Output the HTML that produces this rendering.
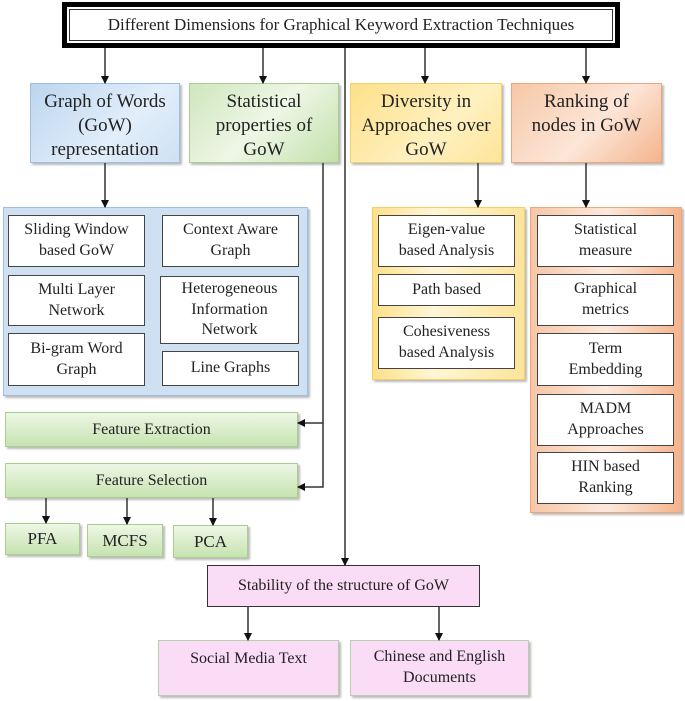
<!DOCTYPE html>
<html><head><meta charset="utf-8"><style>
body{margin:0;width:685px;height:701px;background:#fff;position:relative;overflow:hidden;font-family:"Liberation Serif",serif;color:#222}
.b{position:absolute;box-sizing:border-box;display:flex;align-items:center;justify-content:center;text-align:center;line-height:1.25}
.top{font-size:19px;align-items:flex-start;padding-top:6px;box-shadow:2px 2px 2px #bbb}
.in{background:#fff;border:1.5px solid #444;font-size:16px;line-height:1.3}
.g{background:linear-gradient(180deg,#eef7e6,#c6e3b0);border:1px solid #a9cf8f;box-shadow:2px 2px 2px #bbb;font-size:16px}
.p{background:#fadcf6;font-size:16px;line-height:1.3}
svg{position:absolute;left:0;top:0}
</style></head><body>
<div class="b" style="left:62px;top:2px;width:558px;height:46px;border:5px solid #000;font-size:17px;background:#fff">
<div style="position:absolute;left:2px;top:2px;right:2px;bottom:2px;border:1.5px solid #333"></div>Different Dimensions for Graphical Keyword Extraction Techniques</div>

<div class="b top" style="left:30px;top:83px;width:150px;height:80px;background:linear-gradient(135deg,#bcd6ef,#e2eefa 60%,#cfe1f4);border:1px solid #9dbfe2">Graph of Words<br>(GoW)<br>representation</div>
<div class="b top" style="left:189px;top:83px;width:150px;height:80px;background:linear-gradient(135deg,#cfe6bd,#eef7e6 50%,#c3e0aa);border:1px solid #a9cf8f">Statistical<br>properties of<br>GoW</div>
<div class="b top" style="left:350px;top:83px;width:152px;height:80px;background:linear-gradient(135deg,#fde08a,#fff1c0 60%,#fde49a);border:1px solid #f3cf6a">Diversity in<br>Approaches over<br>GoW</div>
<div class="b top" style="left:511px;top:83px;width:151px;height:80px;background:linear-gradient(135deg,#f6c7a6,#fde6d8 55%,#f4b48c);border:1px solid #eda57d">Ranking of<br>nodes in GoW</div>

<div class="b" style="left:3px;top:207px;width:305px;height:189px;background:#cfe0f3;border:1px solid #9dbfe2;box-shadow:2px 2px 2px #bbb"></div>
<div class="b in" style="left:8px;top:215px;width:137px;height:52px">Sliding Window<br>based GoW</div>
<div class="b in" style="left:162px;top:215px;width:137px;height:52px">Context Aware<br>Graph</div>
<div class="b in" style="left:8px;top:275px;width:137px;height:51px">Multi Layer<br>Network</div>
<div class="b in" style="left:160px;top:276px;width:139px;height:68px">Heterogeneous<br>Information<br>Network</div>
<div class="b in" style="left:8px;top:333px;width:137px;height:53px">Bi-gram Word<br>Graph</div>
<div class="b in" style="left:162px;top:351px;width:137px;height:35px">Line Graphs</div>

<div class="b" style="left:372px;top:207px;width:153px;height:173px;background:linear-gradient(90deg,#fde08a,#fff6d6 40%,#fde49a);border:1px solid #f3cf6a;box-shadow:2px 2px 2px #bbb"></div>
<div class="b in" style="left:378px;top:215px;width:137px;height:52px">Eigen-value<br>based Analysis</div>
<div class="b in" style="left:378px;top:274px;width:137px;height:32px">Path based</div>
<div class="b in" style="left:378px;top:317px;width:137px;height:52px">Cohesiveness<br>based Analysis</div>

<div class="b" style="left:530px;top:207px;width:152px;height:306px;background:linear-gradient(90deg,#f6c7a6,#fde9dc 50%,#f4b48c);border:1px solid #eda57d;box-shadow:2px 2px 2px #bbb"></div>
<div class="b in" style="left:537px;top:215px;width:137px;height:52px">Statistical<br>measure</div>
<div class="b in" style="left:537px;top:274px;width:137px;height:52px">Graphical<br>metrics</div>
<div class="b in" style="left:537px;top:333px;width:137px;height:53px">Term<br>Embedding</div>
<div class="b in" style="left:537px;top:394px;width:137px;height:52px">MADM<br>Approaches</div>
<div class="b in" style="left:537px;top:452px;width:137px;height:52px">HIN based<br>Ranking</div>

<div class="b g" style="left:5px;top:412px;width:293px;height:35px">Feature Extraction</div>
<div class="b g" style="left:5px;top:463px;width:293px;height:35px">Feature Selection</div>
<div class="b g" style="left:5px;top:523px;width:75px;height:32px;font-size:17px">PFA</div>
<div class="b g" style="left:87px;top:524px;width:76px;height:33px;font-size:17px">MCFS</div>
<div class="b g" style="left:173px;top:525px;width:75px;height:33px;font-size:17px">PCA</div>

<div class="b p" style="left:207px;top:565px;width:273px;height:42px;border:1.5px solid #333">Stability of the structure of GoW</div>
<div class="b p" style="left:158px;top:640px;width:181px;height:56px;border:1px solid #b9cfa9;align-items:flex-start;padding-top:8px;box-shadow:2px 2px 2px #bbb">Social Media Text</div>
<div class="b p" style="left:350px;top:640px;width:179px;height:56px;border:1px solid #b9cfa9;box-shadow:2px 2px 2px #bbb">Chinese and English<br>Documents</div>

<svg width="685" height="701">
<defs><marker id="a" markerWidth="8" markerHeight="8" refX="7" refY="4" orient="auto" markerUnits="userSpaceOnUse"><path d="M0,0L8,4L0,8z" fill="#111"/></marker></defs>
<g stroke="#333" stroke-width="1.5" fill="none" marker-end="url(#a)">
<line x1="105" y1="48" x2="105" y2="83"/>
<line x1="263" y1="48" x2="263" y2="83"/>
<line x1="425" y1="48" x2="425" y2="83"/>
<line x1="586" y1="48" x2="586" y2="83"/>
<line x1="105" y1="163" x2="105" y2="207"/>
<line x1="478" y1="163" x2="478" y2="207"/>
<line x1="586" y1="163" x2="586" y2="207"/>
<line x1="345" y1="48" x2="345" y2="565"/>
<polyline points="323,163 323,423 298,423"/>
<polyline points="323,423 323,487 298,487"/>
<line x1="46" y1="498" x2="46" y2="523"/>
<line x1="127" y1="498" x2="127" y2="524"/>
<line x1="213" y1="498" x2="213" y2="525"/>
<line x1="248" y1="607" x2="248" y2="640"/>
<line x1="439" y1="607" x2="439" y2="640"/>
</g></svg>
</body></html>
